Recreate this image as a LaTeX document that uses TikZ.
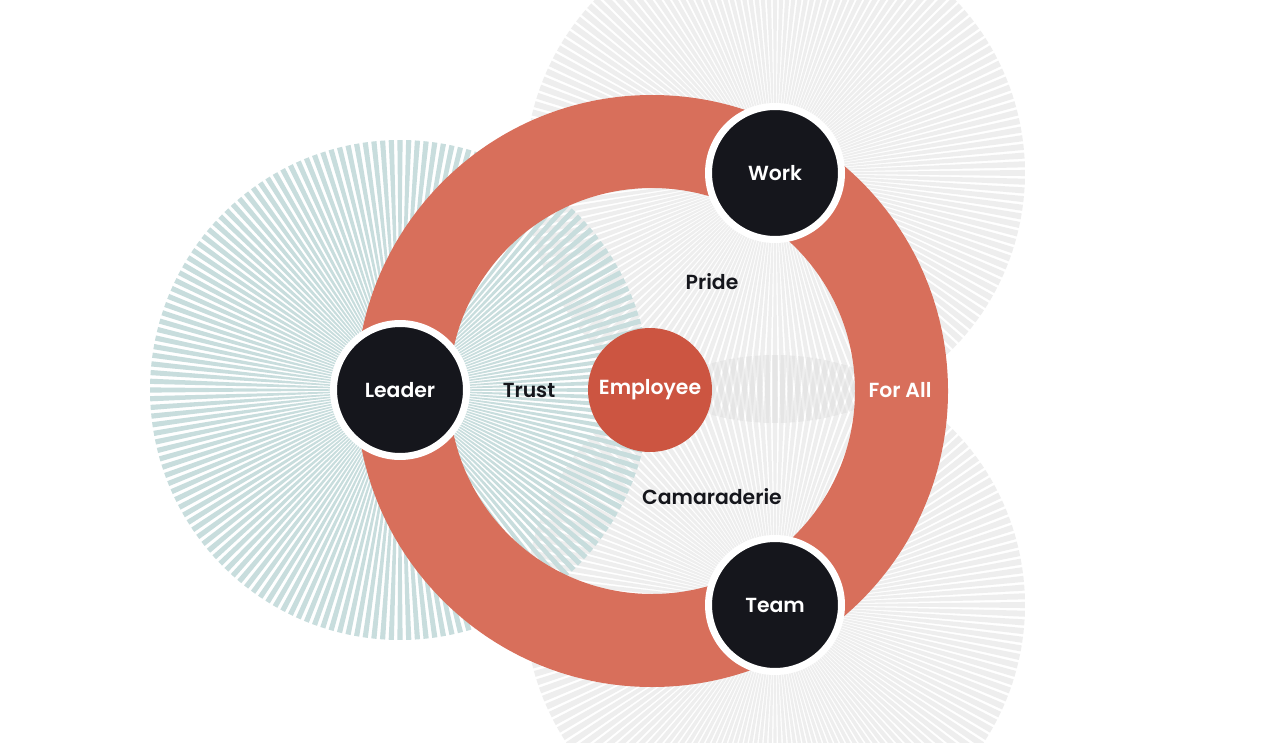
\documentclass[tikz,border=0pt]{standalone}
\usepackage{fontspec}
\setmainfont{Poppins}[UprightFont=* Medium, BoldFont=* SemiBold]

\definecolor{ringred}{RGB}{216,111,91}
\definecolor{emplred}{RGB}{204,85,65}
\definecolor{hubblack}{RGB}{21,22,28}
\definecolor{raygray}{RGB}{222,222,222}
\definecolor{rayteal}{RGB}{200,221,221}

\tikzset{
  hub/.style={circle, fill=hubblack, draw=white, line width=0.14cm,
    minimum size=2.66cm, inner sep=0pt, text=white,
    font=\fontsize{11.6}{14}\selectfont\bfseries},
  core/.style={circle, fill=emplred, minimum size=2.48cm, inner sep=0pt,
    text=white, font=\fontsize{11.6}{14}\selectfont\bfseries},
  value/.style={text=hubblack, font=\fontsize{11.6}{14}\selectfont\bfseries},
}

\begin{document}
\begin{tikzpicture}[x=0.02cm, y=-0.02cm]
    \useasboundingbox (0,0) rectangle (1280,743);
    \clip (0,0) rectangle (1280,743);
    \fill[white] (0,0) rectangle (1280,743);

    \coordinate (leaderpos) at (400,390);
    \coordinate (workpos) at (775,173);
    \coordinate (teampos) at (775,605);
    \coordinate (ringpos) at (652,391);

    % grey sunbursts behind work and team
    \foreach \pos in {workpos, teampos}
      \foreach \a in {0,2,...,358}
        \fill[raygray, fill opacity=.5, shift={(\pos)}]
          (0,0) -- (\a-0.7:250) -- (\a+0.7:250) -- cycle;
    % teal sunburst behind leader
    \foreach \a in {0,2,...,358}
      \fill[rayteal, shift={(leaderpos)}]
        (0,0) -- (\a-0.6:250) -- (\a+0.6:250) -- cycle;

    % the ring
    \fill[ringred, even odd rule] (ringpos) circle[radius=296] (ringpos) circle[radius=203];

    \node[value] (pride) at (712,282) {Pride};
    \node[value] (trust) at (529,390) {Trust};
    \node[value] (camaraderie) at (712,497) {Camaraderie};
    \node[value, text=white] (forall) at (900,390) {For All};

    \node[core] (employee) at (650,390) {Employee};
    \node[hub] (leader) at (leaderpos) {Leader};
    \node[hub] (work) at (workpos) {Work};
    \node[hub] (team) at (teampos) {Team};
\end{tikzpicture}
\end{document}
